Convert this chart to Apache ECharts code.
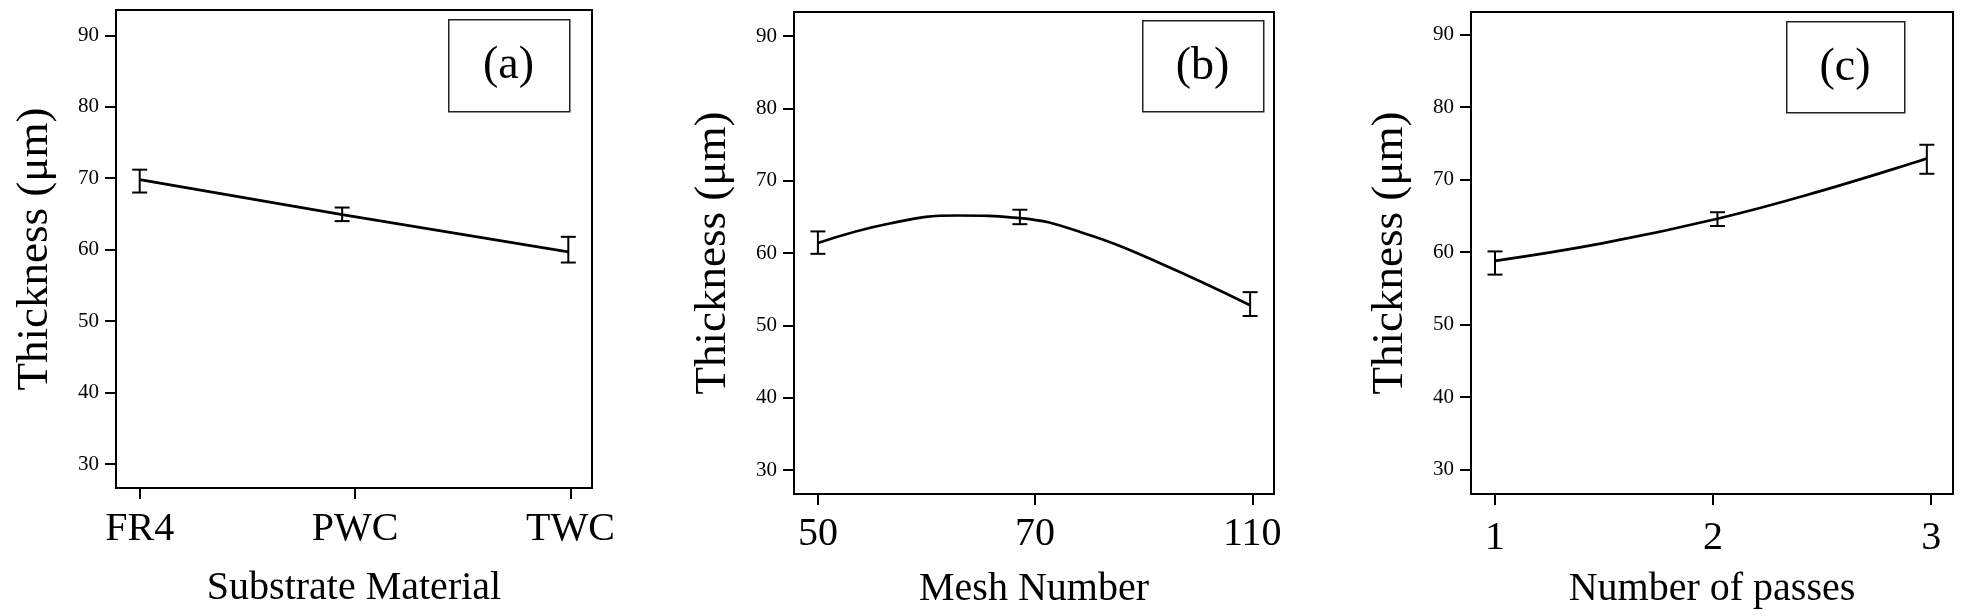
<!DOCTYPE html>
<html><head><meta charset="utf-8">
<script src="https://cdn.jsdelivr.net/npm/echarts@6/dist/echarts.min.js"></script>
<style>html,body{margin:0;padding:0;background:#fff}#c{width:1979px;height:616px}</style>
</head><body><div id="c"></div>
<script>
// ---- data ----
// (a) Substrate Material
const substrateCats = ['FR4', 'PWC', 'TWC'];
const substratePos  = [0, 0.94, 1.99];          // where each mean sits along the category axis
const substrateMean = [69.8, 64.9, 59.7];
const substrateLow  = [68.0, 64.0, 58.2];
const substrateHigh = [71.2, 65.9, 61.8];

// (b) Mesh Number
const meshCats = ['50', '70', '110'];
const meshPos  = [0, 0.93, 1.99];
const meshMean = [61.4, 64.8, 52.8];
const meshLow  = [59.9, 64.0, 51.3];
const meshHigh = [63.0, 66.0, 54.6];
const meshFitPos = [0, 0.33, 0.64, 0.93, 1.25, 1.56, 1.99];
const meshFitVal = [61.4, 64.1, 65.2, 64.85, 62.5, 58.8, 52.8];

// (c) Number of passes
const passCats = ['1', '2', '3'];
const passPos  = [0, 1.02, 1.98];
const passMean = [58.8, 64.6, 72.9];
const passLow  = [56.9, 63.6, 70.8];
const passHigh = [60.1, 65.5, 74.8];
const passFitPos = [0, 0.49, 1.02, 1.48, 1.98];
const passFitVal = [58.8, 61.2, 64.6, 68.3, 72.9];

const yTickValues = [30, 40, 50, 60, 70, 80, 90];
const panelLabels = ['(a)', '(b)', '(c)'];
const xTitles = ['Substrate Material', 'Mesh Number', 'Number of passes'];
const yTitle = 'Thickness (μm)';

// ---- chart ----
const FONT = 'Liberation Serif';
const panels = [
  {cats: substrateCats, pos: substratePos, mean: substrateMean, low: substrateLow, high: substrateHigh,
   fitPos: substratePos, fitVal: substrateMean, smooth: false},
  {cats: meshCats, pos: meshPos, mean: meshMean, low: meshLow, high: meshHigh,
   fitPos: meshFitPos, fitVal: meshFitVal, smooth: 0.45},
  {cats: passCats, pos: passPos, mean: passMean, low: passLow, high: passHigh,
   fitPos: passFitPos, fitVal: passFitVal, smooth: 0.45}
];
const gridLayout = [
  {left: 116, top: 10, width: 476, height: 478},
  {left: 794, top: 12, width: 480, height: 482},
  {left: 1471, top: 12, width: 482, height: 482}
];
const yRange = [[26.64, 93.55], [26.68, 93.35], [26.66, 93.1]];
const xNameGap = [80, 75, 75];
const xLabelMargin = [21, 20, 24];
const labelBoxes = [
  {x: 448, y: 19, w: 121, h: 92},
  {x: 1142, y: 20, w: 121, h: 91},
  {x: 1786, y: 21, w: 118, h: 91}
];

function errorBarItem(params, api) {
  const x = api.value(0);
  const lo = api.coord([x, api.value(1)]);
  const hi = api.coord([x, api.value(2)]);
  const w = 7.5;
  const style = {stroke: '#000', lineWidth: 2, fill: null};
  return {type: 'group', children: [
    {type: 'line', shape: {x1: lo[0], y1: lo[1], x2: hi[0], y2: hi[1]}, style: style},
    {type: 'line', shape: {x1: lo[0] - w, y1: lo[1], x2: lo[0] + w, y2: lo[1]}, style: style},
    {type: 'line', shape: {x1: hi[0] - w, y1: hi[1], x2: hi[0] + w, y2: hi[1]}, style: style}
  ]};
}

const grids = [], xAxes = [], yAxes = [], series = [], graphics = [];
panels.forEach((p, i) => {
  grids.push(Object.assign({show: true, borderColor: '#000', borderWidth: 2, backgroundColor: 'transparent'}, gridLayout[i]));
  const idx = p.cats.map((c, k) => k);
  xAxes.push({
    gridIndex: i, type: 'value', min: -0.11, max: 2.10,
    axisLine: {show: true, onZero: false, lineStyle: {color: '#000', width: 2}},
    axisTick: {show: true, customValues: idx, length: 11, inside: false, lineStyle: {color: '#000', width: 2}},
    axisLabel: {show: true, customValues: idx, formatter: v => p.cats[Math.round(v)],
      fontFamily: FONT, fontSize: 40, color: '#000', margin: xLabelMargin[i]},
    splitLine: {show: false},
    name: xTitles[i], nameLocation: 'middle', nameGap: xNameGap[i],
    nameTextStyle: {fontFamily: FONT, fontSize: 40, color: '#000'}
  });
  yAxes.push({
    gridIndex: i, type: 'value', min: yRange[i][0], max: yRange[i][1],
    axisLine: {show: true, onZero: false, lineStyle: {color: '#000', width: 2}},
    axisTick: {show: true, customValues: yTickValues, length: 11, inside: false, lineStyle: {color: '#000', width: 2}},
    axisLabel: {show: true, customValues: yTickValues, fontFamily: FONT, fontSize: 21, color: '#000', margin: 17},
    splitLine: {show: false},
    name: yTitle, nameLocation: 'middle', nameRotate: 90, nameGap: 58,
    nameTextStyle: {fontFamily: FONT, fontSize: 45, color: '#000'}
  });
  series.push({
    type: 'line', xAxisIndex: i, yAxisIndex: i,
    data: p.fitPos.map((x, k) => [x, p.fitVal[k]]),
    smooth: p.smooth, symbol: 'none',
    lineStyle: {color: '#000', width: 2.7}, z: 3, silent: true
  });
  series.push({
    type: 'custom', xAxisIndex: i, yAxisIndex: i,
    data: p.pos.map((x, k) => [x, p.low[k], p.high[k], p.mean[k]]),
    encode: {x: 0, y: [1, 2]},
    renderItem: errorBarItem, z: 4, silent: true
  });
  const b = labelBoxes[i];
  graphics.push({
    type: 'rect', left: b.x, top: b.y, shape: {width: b.w, height: b.h},
    style: {fill: '#fff', stroke: '#222', lineWidth: 1.5}, z: 10
  });
  graphics.push({
    type: 'text', x: b.x + b.w / 2, y: b.y + b.h / 2 + 1,
    style: {text: panelLabels[i], font: '46px "' + FONT + '"', fill: '#000', align: 'center', verticalAlign: 'middle'}, z: 11
  });
});

const chart = echarts.init(document.getElementById('c'), null, {renderer: 'canvas'});
chart.setOption({
  animation: false,
  backgroundColor: '#fff',
  grid: grids, xAxis: xAxes, yAxis: yAxes, series: series,
  graphic: graphics
});
</script>
</body></html>
